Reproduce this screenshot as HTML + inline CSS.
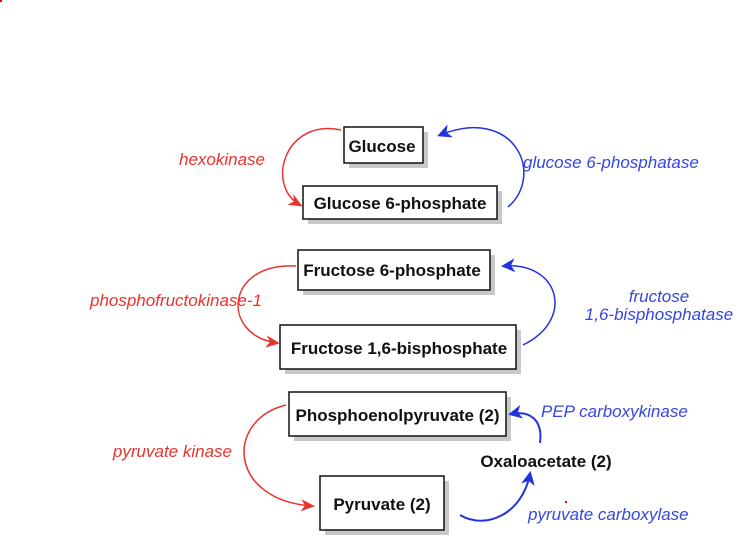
<!DOCTYPE html>
<html><head><style>
html,body{margin:0;padding:0;background:#fff;}
svg{display:block;}
text{font-family:"Liberation Sans",Arial,sans-serif;}
.b{font-weight:bold;font-size:17px;fill:#111;}
.r{fill:#e8332e;font-style:italic;font-size:17px;}
.u{fill:#3446e6;font-style:italic;font-size:17px;}
</style></head><body>
<svg width="751" height="549" viewBox="0 0 751 549" xmlns="http://www.w3.org/2000/svg">
<defs>
<marker id="ar" markerWidth="14" markerHeight="12" refX="11" refY="6" orient="auto" markerUnits="userSpaceOnUse"><path d="M0,0 L14,6 L0,12 L4,6 Z" fill="#e8332e"/></marker>
<marker id="ab" markerWidth="14" markerHeight="14" refX="11" refY="7" orient="auto" markerUnits="userSpaceOnUse"><path d="M0,0 L14,7 L0,14 L4,7 Z" fill="#2233dd"/></marker>
</defs>
<rect x="0" y="0" width="2" height="2" fill="red"/>
<g fill="#c8c8c8">
<rect x="349" y="132" width="79" height="36"/>
<rect x="308" y="191" width="194" height="33"/>
<rect x="303" y="255" width="192" height="40"/>
<rect x="285" y="330" width="236" height="44"/>
<rect x="294" y="397" width="217" height="44"/>
<rect x="325" y="481" width="124" height="54"/>
</g>
<g fill="#fff" stroke="#111" stroke-width="1.5">
<rect x="344" y="127" width="79" height="36"/>
<rect x="303" y="186" width="194" height="33"/>
<rect x="298" y="250" width="192" height="40"/>
<rect x="280" y="325" width="236" height="44"/>
<rect x="289" y="392" width="217" height="44"/>
<rect x="320" y="476" width="124" height="54"/>
</g>
<text class="b" x="382" y="152" text-anchor="middle">Glucose</text>
<text class="b" x="400" y="209" text-anchor="middle">Glucose 6-phosphate</text>
<text class="b" x="392" y="276" text-anchor="middle">Fructose 6-phosphate</text>
<text class="b" x="399" y="354" text-anchor="middle">Fructose 1,6-bisphosphate</text>
<text class="b" x="397.5" y="421" text-anchor="middle">Phosphoenolpyruvate (2)</text>
<text class="b" x="382" y="510" text-anchor="middle">Pyruvate (2)</text>
<text class="b" x="546" y="467" text-anchor="middle">Oxaloacetate (2)</text>
<g fill="none" stroke-width="1.5">
<path d="M341,130 C285,118 265,185 300,205" stroke="#e8332e" marker-end="url(#ar)"/>
<path d="M296,266 C225,262 220,335 277,343" stroke="#e8332e" marker-end="url(#ar)"/>
<path d="M286,405 C225,420 228,500 312,506" stroke="#e8332e" marker-end="url(#ar)"/>
<path d="M508,207 C545,175 515,105 440,135" stroke="#2233dd" marker-end="url(#ab)"/>
<path d="M523,345 C575,320 560,262 504,266" stroke="#2233dd" marker-end="url(#ab)"/>
<path d="M540,443 C543,420 530,410 511,414" stroke="#2233dd" stroke-width="2" marker-end="url(#ab)"/>
<path d="M460,515 C485,530 522,515 530,474" stroke="#2233dd" stroke-width="2" marker-end="url(#ab)"/>
</g>
<text class="r" x="265" y="165" text-anchor="end">hexokinase</text>
<text class="u" x="523" y="168">glucose 6-phosphatase</text>
<text class="r" x="262" y="306" text-anchor="end">phosphofructokinase-1</text>
<text class="u" x="659" y="302" text-anchor="middle">fructose</text>
<text class="u" x="659" y="320" text-anchor="middle">1,6-bisphosphatase</text>
<text class="u" x="541" y="417">PEP carboxykinase</text>
<text class="r" x="232" y="457" text-anchor="end">pyruvate kinase</text>
<text class="u" x="528" y="520">pyruvate carboxylase</text>
<rect x="565" y="501" width="2" height="2" fill="red"/>
</svg>
</body></html>
